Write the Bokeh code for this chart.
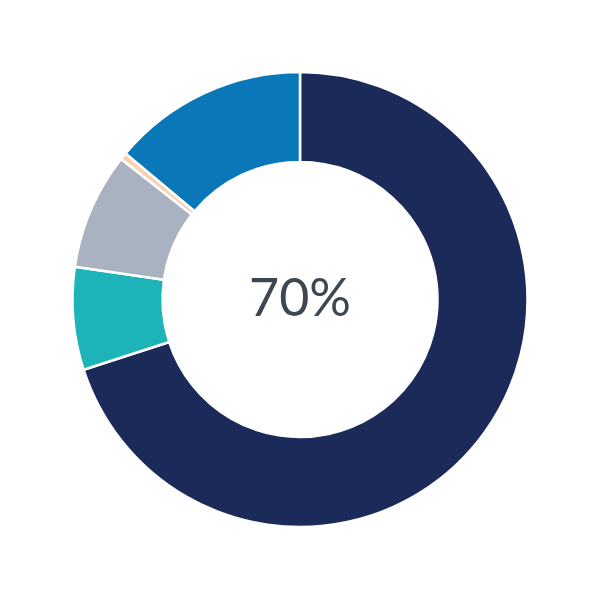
import numpy as np
from bokeh.plotting import figure
from bokeh.models import ColumnDataSource, Range1d
from bokeh.core.properties import value
from bokeh.embed import file_html
from bokeh.resources import INLINE

categories = ["A", "B", "C", "D", "E"]
shares = [70.0, 7.3, 8.3, 0.5, 13.9]
colors = ["#1c2a5a", "#1cb4b8", "#a9b2c0", "#f8d2b0", "#0a78b8"]
center_label = "70%"

W = H = 584
p = figure(width=W, height=H, output_backend="svg", toolbar_location=None,
           x_range=Range1d(-299.5, 284.5), y_range=Range1d(-285, 299),
           min_border=0, outline_line_color=None)
p.axis.visible = False
p.grid.visible = False
p.background_fill_color = "white"
p.border_fill_color = "white"

vals = np.array(shares)
frac = vals / vals.sum()
cum = np.concatenate([[0], np.cumsum(frac)]) * 2 * np.pi
start = np.pi / 2 - cum[:-1]
end = np.pi / 2 - cum[1:]

src = ColumnDataSource(dict(cat=categories, start=start, end=end, color=colors))
p.annular_wedge(x=0, y=0, inner_radius=137.5, outer_radius=227.5,
                start_angle="start", end_angle="end", direction="clock",
                fill_color="color", line_color="white", line_width=2.5,
                source=src)

p.text(x=[0], y=[4], text=[center_label], text_font=value("Lato"),
       text_font_size="52px", text_color="#3d4752", text_align="center",
       text_baseline="middle")

open("out.html", "w").write(file_html(p, INLINE))
